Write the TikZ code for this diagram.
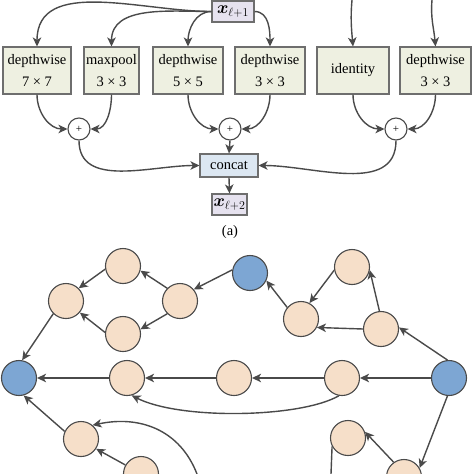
\documentclass[tikz,border=0pt]{standalone}
\usepackage{amsmath,bm}
\usepackage{fontspec}
\setmainfont{Liberation Serif}
\usetikzlibrary{arrows.meta}
\definecolor{boxfill}{HTML}{EEF0E1}
\definecolor{boxdraw}{HTML}{6E6E6E}
\definecolor{catfill}{HTML}{DCE7F2}
\definecolor{xfill}{HTML}{E6E2EF}
\definecolor{edgec}{HTML}{4A4A4A}
\definecolor{peach}{HTML}{F6DFC9}
\definecolor{bluen}{HTML}{7DA6D3}
\begin{document}
\begin{tikzpicture}[x=1pt,y=1pt,
  opbox/.style={draw=boxdraw, fill=boxfill, line width=1.1pt, minimum height=47pt, inner sep=0pt, align=center, font=\fontsize{14.5}{22}\selectfont},
  catbox/.style={draw=boxdraw, fill=catfill, line width=1.1pt, minimum height=23pt, minimum width=58pt, inner sep=0pt, font=\fontsize{14.5}{17}\selectfont},
  xbox/.style={draw=boxdraw, fill=xfill, line width=1.1pt, minimum height=21pt, inner sep=0pt, font=\fontsize{16.5}{18}\selectfont},
  plusnode/.style={circle, draw=edgec, fill=white, line width=1.1pt, minimum size=22pt, inner sep=0pt, font=\fontsize{11}{12}\selectfont},
  conn/.style={draw=edgec, line width=1.4pt, -{Stealth[length=9pt,width=8.5pt,inset=2.5pt]}},
  plainconn/.style={draw=edgec, line width=1.4pt},
  gnode/.style={circle, draw=edgec, line width=1.1pt, minimum size=35pt, inner sep=0pt, fill=peach},
  bnode/.style={circle, draw=edgec, line width=1.1pt, minimum size=35pt, inner sep=0pt, fill=bluen},
  caption/.style={font=\fontsize{14.5}{17}\selectfont}
]
\useasboundingbox (0,0) rectangle (474,-474);

% ---------- (a) ----------
\node[xbox, minimum width=42pt] (xin) at (233,-11.5) {$\bm{x}_{\ell+1}$};
\node[opbox, minimum width=68pt] (dw7) at (37,-70.5) {depthwise\\7 × 7};
\node[opbox, minimum width=55pt] (mp3) at (111.5,-70.5) {maxpool\\3 × 3};
\node[opbox, minimum width=70pt] (dw5) at (188,-70.5) {depthwise\\5 × 5};
\node[opbox, minimum width=70pt] (dw3a) at (270,-70.5) {depthwise\\3 × 3};
\node[opbox, minimum width=72pt] (idn) at (353,-70.5) {identity};
\node[opbox, minimum width=71pt] (dw3b) at (435.5,-70.5) {depthwise\\3 × 3};

\node[plusnode] (p1) at (79,-129) {+};
\node[plusnode] (p2) at (230,-129) {+};
\node[plusnode] (p3) at (396,-129) {+};

\node[catbox] (cat) at (229,-165.5) {concat};
\node[xbox, minimum width=35pt] (xout) at (229.5,-204.5) {$\bm{x}_{\ell+2}$};
\node[caption] (cap) at (230,-232) {(a)};

\coordinate (inA) at (352,0);
\coordinate (inB) at (432,0);

\draw[conn] (xin.west) to[out=180,in=90] (dw7.north);
\draw[conn] (xin.west) to[out=180,in=90] (mp3.north);
\draw[conn] (xin.west) to[out=180,in=90] (dw5.north);
\draw[conn] (xin.east) to[out=0,in=90] (dw3a.north);
\draw[conn] (inA) to[out=-95,in=95] (idn.north);
\draw[conn] (inB) to[out=-95,in=95] (dw3b.north);

\draw[conn] (dw7.south) to[out=-90,in=180] (p1.west);
\draw[conn] (mp3.south) to[out=-90,in=0] (p1.east);
\draw[conn] (dw5.south) to[out=-90,in=180] (p2.west);
\draw[conn] (dw3a.south) to[out=-90,in=0] (p2.east);
\draw[conn] (idn.south) to[out=-90,in=180] (p3.west);
\draw[conn] (dw3b.south) to[out=-90,in=0] (p3.east);

\draw[conn] (p1.south) to[out=-90,in=180] (cat.west);
\draw[conn] (p2.south) -- (cat.north);
\draw[conn] (p3.south) to[out=-90,in=0] (cat.east);
\draw[conn] (cat.south) -- (xout.north);

% ---------- graph ----------
\node[gnode] (A) at (123,-266) {};
\node[gnode] (B) at (66,-301) {};
\node[gnode] (C) at (180,-301) {};
\node[gnode] (D) at (123,-334) {};
\node[bnode] (E) at (250,-273) {};
\node[gnode] (F) at (352,-267) {};
\node[gnode] (G) at (301,-319) {};
\node[gnode] (H) at (381,-329) {};
\node[bnode] (P) at (19,-378) {};
\node[gnode] (I) at (127,-378) {};
\node[gnode] (J) at (234,-378) {};
\node[gnode] (K) at (342,-378) {};
\node[bnode] (Q) at (449,-378) {};
\node[gnode] (L) at (81,-439) {};
\node[gnode] (M) at (141,-474) {};
\node[gnode] (N) at (348,-438) {};
\node[gnode] (O) at (404,-477) {};

\coordinate (inL) at (197,-474);
\coordinate (outN) at (331,-474);

\draw[conn] (E.170) -- (C.40);
\draw[conn] (C.135) -- (A.-15);
\draw[conn] (C.225) -- (D.15);
\draw[conn] (A.190) -- (B.45);
\draw[conn] (D.175) -- (B.-40);
\draw[conn] (B.225) -- (P.80);
\draw[conn] (G.140) -- (E.-25);
\draw[conn] (F.190) -- (G.62);
\draw[conn] (H.95) -- (F.-10);
\draw[conn] (H.180) -- (G.-28);
\draw[conn] (Q.95) -- (H.5);
\draw[conn] (Q.west) -- (K.east);
\draw[conn] (K.west) -- (J.east);
\draw[conn] (J.west) -- (I.east);
\draw[conn] (I.west) -- (P.east);
\draw[conn] (K.-100) .. controls (300,-418) and (180,-420) .. (I.-75);
\draw[conn] (L.155) -- (P.-75);
\draw[conn] (M.150) -- (L.-33);
\draw[conn] (inL) .. controls (180,-430) and (140,-415) .. (L.50);
\draw[conn] (Q.-95) -- (O.30);
\draw[conn] (O.125) -- (N.20);
\draw[plainconn] (N.208) -- (outN);
\end{tikzpicture}
\end{document}
